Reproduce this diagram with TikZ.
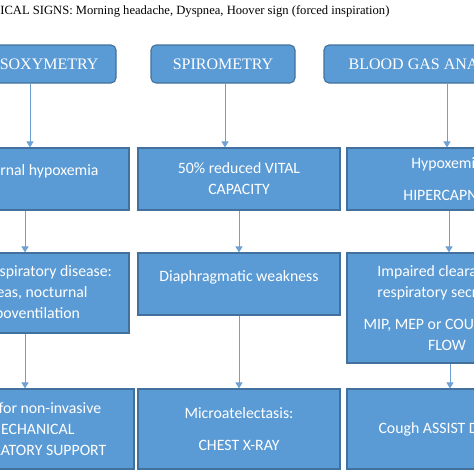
\documentclass[tikz,border=0pt]{standalone}
\usepackage{fontspec}
\setmainfont{Carlito}
\newfontfamily\headfont{Liberation Serif}
\usetikzlibrary{arrows.meta}

\begin{document}
\begin{tikzpicture}[x=1pt,y=-1pt]
  \definecolor{boxfill}{RGB}{91,155,213}
  \definecolor{boxline}{RGB}{65,113,156}
  \definecolor{arrowcol}{RGB}{110,160,210}

  \tikzset{
    headbox/.style={rectangle,rounded corners=5pt,draw=boxline,fill=boxfill,line width=1.1pt,
      text=white,font=\headfont\fontsize{16}{19}\selectfont,minimum height=38pt,inner sep=0pt},
    bodybox/.style={rectangle,draw=boxline,fill=boxfill,line width=1.1pt,text=white,
      font=\fontsize{15.8}{21}\selectfont,align=center,inner sep=0pt},
    flowarrow/.style={-{Triangle[length=6pt,width=7pt]},draw=arrowcol,line width=0.9pt}
  }

  \useasboundingbox (0,0) rectangle (474,474);
  \clip (0,0) rectangle (474,474);

  \node[anchor=base east,font=\headfont\fontsize{12.6}{15}\selectfont] (signs) at (393,14)
    {CLINICAL SIGNS: Morning headache, Dyspnea, Hoover sign (forced inspiration)};

  % ---------------- header row ----------------
  \node[headbox,minimum width=164pt] (hdpulse) at (34,64) {PULSOXYMETRY};
  \node[headbox,minimum width=144pt] (hdspiro) at (223,64) {SPIROMETRY};
  \node[headbox,minimum width=222pt] (hdgas) at (435,64) {BLOOD GAS ANALYSIS};

  % ---------------- second row ----------------
  \node[bodybox,minimum width=198pt,minimum height=62pt,text depth=18pt] (hypox) at (30,179)
    {Nocturnal hypoxemia};
  \node[bodybox,minimum width=202pt,minimum height=62pt] (vital) at (239,179)
    {50\% reduced VITAL\\CAPACITY};
  \node[bodybox,minimum width=200pt,minimum height=62pt] (hypercap) at (447,179)
    {Hypoxemia\\[11pt]HIPERCAPNIA};

  % ---------------- third row ----------------
  \node[bodybox,minimum width=198pt,minimum height=80pt] (sleepdis) at (30,293)
    {Sleep respiratory disease:\\apneas, nocturnal\\hypoventilation};
  \node[bodybox,minimum width=202pt,minimum height=62pt,text depth=16pt] (diaph) at (239,284)
    {Diaphragmatic weakness};
  \node[bodybox,minimum width=200pt,minimum height=110pt] (clear) at (447,308)
    {Impaired clearance of\\respiratory secretions\\[11pt]MIP, MEP or COUGH PEAK\\FLOW};

  % ---------------- bottom row ----------------
  \node[bodybox,minimum width=206pt,minimum height=80pt] (niv) at (31,429)
    {Need for non-invasive\\MECHANICAL\\VENTILATORY SUPPORT};
  \node[bodybox,minimum width=202pt,minimum height=80pt] (xray) at (239,429)
    {Microatelectasis:\\[11pt]CHEST X-RAY};
  \node[bodybox,minimum width=200pt,minimum height=80pt] (cough) at (447,429)
    {Cough ASSIST DEVICE};

  % arrows header -> second row
  \draw[flowarrow] (hdpulse.south -| hypox.north) -- (hypox.north);
  \draw[flowarrow] ([xshift=2pt]hdspiro.south) -- ([xshift=2pt]hdspiro.south |- vital.north);
  \draw[flowarrow] (hdgas.south -| hypercap.north) -- (hypercap.north);

  % arrows second -> third row
  \draw[flowarrow] ([xshift=-5pt]hypox.south) -- ([xshift=-5pt]sleepdis.north);
  \draw[flowarrow] (vital.south) -- (diaph.north);
  \draw[flowarrow] ([xshift=2pt]hypercap.south) -- ([xshift=2pt]clear.north);

  % arrows third -> bottom row
  \draw[flowarrow] ([xshift=-5pt]sleepdis.south) -- ([xshift=-5pt]sleepdis.south |- niv.north);
  \draw[flowarrow] (diaph.south) -- (xray.north);
  \draw[flowarrow] ([xshift=3pt]clear.south) -- ([xshift=3pt]cough.north);
\end{tikzpicture}
\end{document}
